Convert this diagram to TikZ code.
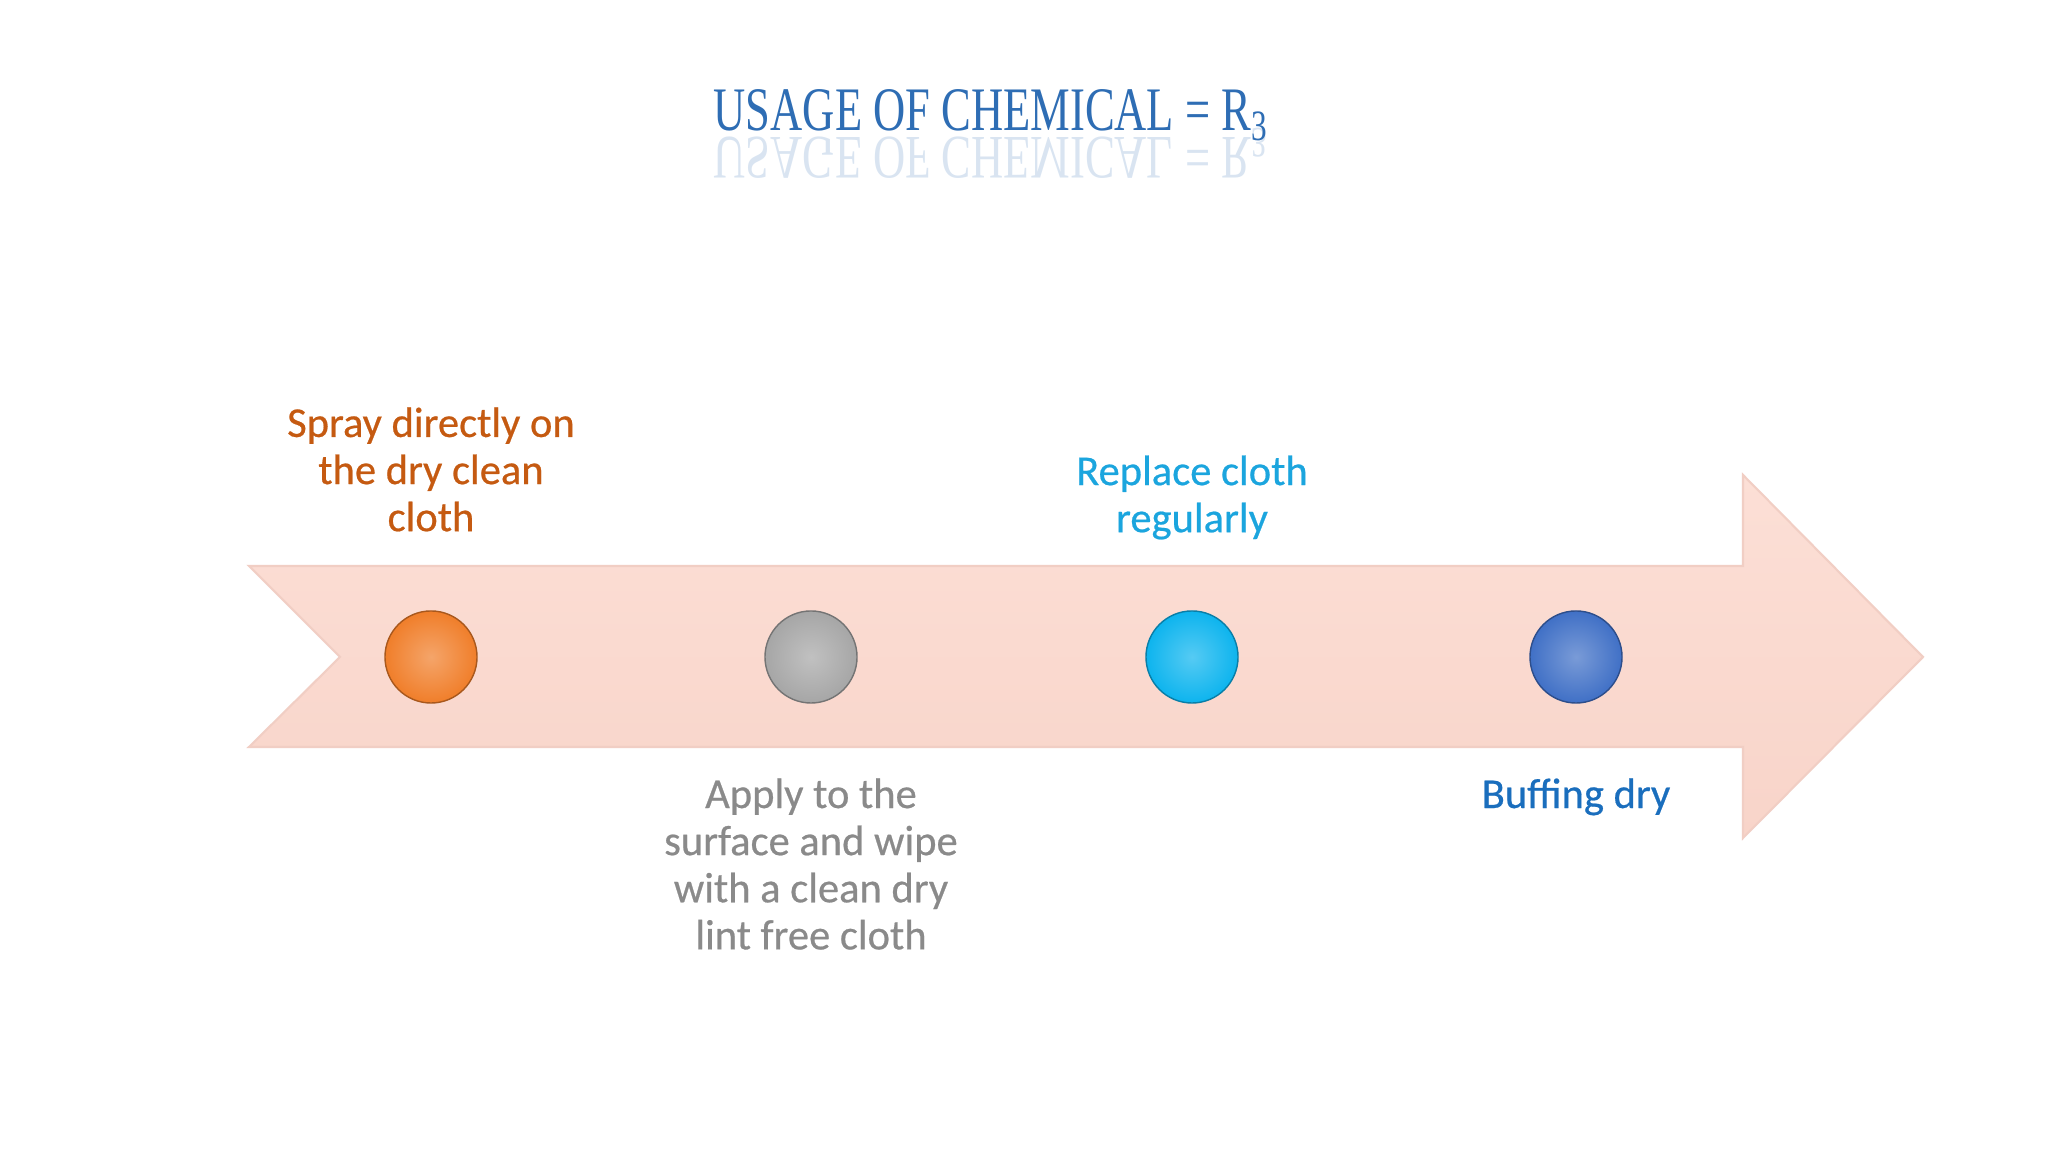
\documentclass[tikz,border=0pt]{standalone}
\usepackage{fontspec}
\usepackage{tikz}
\usetikzlibrary{positioning}
\setmainfont{Carlito}
\newfontfamily\labelfont[FakeBold=0.5]{Carlito}
\newfontfamily\titlefont{Liberation Serif}
\definecolor{titleblue}{HTML}{2E6DB4}
\definecolor{arrowtop}{HTML}{FCDFD6}
\definecolor{arrowbot}{HTML}{F8D4C9}
\definecolor{arrowline}{HTML}{F1CEC4}
\definecolor{dotorange}{HTML}{F07E2A}
\definecolor{dotgray}{HTML}{A6A6A6}
\definecolor{dotcyan}{HTML}{0DB4EE}
\definecolor{dotblue}{HTML}{4070C6}
\definecolor{txtorange}{HTML}{C55A11}
\definecolor{txtgray}{HTML}{8A8A8A}
\definecolor{txtcyan}{HTML}{1BA5DE}
\definecolor{txtblue}{HTML}{1A6EBD}
\tikzset{
  dotnode/.style = {circle, minimum size=0.92cm, inner sep=0pt,
    draw=#1!70!black, line width=0.4pt, inner color=#1!70!white, outer color=#1},
  labeltext/.style = {align=center, inner sep=0pt, text=#1,
    font=\labelfont\fontsize{12.1}{13.4}\selectfont},
  titletext/.style = {anchor=base, inner sep=0pt, text=titleblue,
    font=\titlefont\fontsize{17.6}{20}\selectfont}
}

\begin{document}
\begin{tikzpicture}[x=0.01cm, y=0.01cm]
  \useasboundingbox (0,0) rectangle (2048,1152);
  \fill[white] (0,0) rectangle (2048,1152);

  \node (title) [titletext] at (991,1021)
    {\scalebox{0.72}[1]{USAGE OF CHEMICAL = R\textsubscript{3}}};
  \node (titlemirror) [titletext, opacity=0.18, text opacity=0.18] at (991,1014)
    {\scalebox{0.72}[-1]{USAGE OF CHEMICAL = R\textsubscript{3}}};

  \path[draw=arrowline, line width=0.6pt, top color=arrowtop, bottom color=arrowbot]
    (249,586) -- (1743,586) -- (1743,677) -- (1923,495) -- (1743,314)
    -- (1743,405) -- (249,405) -- (340,495) -- cycle;

  \node (dot1) [dotnode=dotorange] at (431,495) {};
  \node (dot2) [dotnode=dotgray]   at (811,495) {};
  \node (dot3) [dotnode=dotcyan]   at (1192,495) {};
  \node (dot4) [dotnode=dotblue]   at (1576,495) {};

  \node (lab1) [labeltext=txtorange, above=0.78cm of dot1]
    {Spray directly on\\the dry clean\\cloth};
  \node (lab2) [labeltext=txtgray, below=0.74cm of dot2]
    {Apply to the\\surface and wipe\\with a clean dry\\lint free cloth};
  \node (lab3) [labeltext=txtcyan, above=0.70cm of dot3]
    {Replace cloth\\regularly};
  \node (lab4) [labeltext=txtblue, below=0.74cm of dot4]
    {Buffing dry};
\end{tikzpicture}
\end{document}
